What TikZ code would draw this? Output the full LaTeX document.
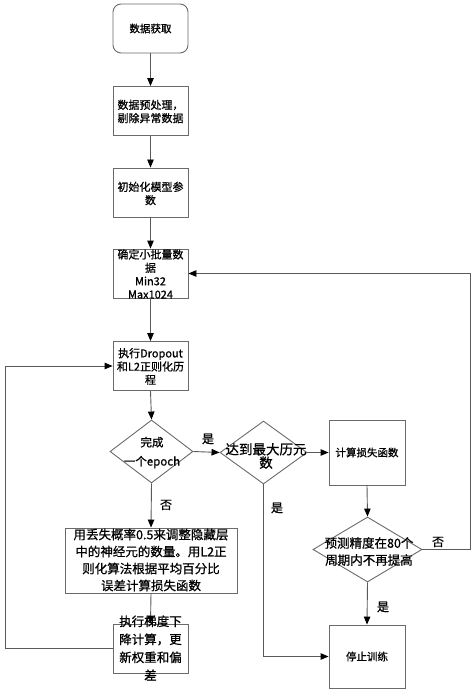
\documentclass[tikz,border=0pt]{standalone}
\usepackage{fontspec}
\setmainfont{Noto Sans CJK SC}[FakeBold=0.8]
\usetikzlibrary{shapes.geometric,arrows.meta}
\definecolor{linec}{HTML}{5A5A5A}
\definecolor{boxc}{HTML}{6A6A6A}
\begin{document}
\begin{tikzpicture}[x=1pt,y=-1pt,
  box/.style={draw=boxc, line width=0.9pt, minimum width=75pt, minimum height=49pt, inner sep=0pt},
  dia/.style={draw=boxc, line width=0.9pt, diamond, inner sep=0pt},
  txt/.style={align=center, inner sep=0pt, font=\fontsize{11}{13.3}\selectfont},
  txts/.style={align=center, inner sep=0pt, font=\fontsize{10.5}{13}\selectfont},
  txtl/.style={align=center, inner sep=0pt, font=\fontsize{12.5}{17}\selectfont},
  lab/.style={inner sep=0pt, font=\fontsize{12}{14}\selectfont},
  arr/.style={draw=linec, line width=0.9pt, -{Triangle[length=8pt,width=6.5pt,color=black]}},
  ln/.style={draw=linec, line width=0.9pt}]
\useasboundingbox (0,0) rectangle (474,695);
% shapes
\node[box, rounded corners=8pt] (b1) at (150.5,28.5) {};
\node[box] (b2) at (150.5,111) {};
\node[box] (b3) at (150.5,192.5) {};
\node[box] (b4) at (150.5,273.5) {};
\node[box] (b5) at (150.5,366) {};
\node[dia, minimum width=83pt, minimum height=63pt] (d1) at (151.5,451.5) {};
\node[dia, minimum width=87pt, minimum height=63pt] (d2) at (263.5,452.5) {};
\node[box, minimum width=76pt, minimum height=65pt] (b6) at (367,452.5) {};
\node[dia, minimum width=109pt, minimum height=65pt] (d3) at (367.5,549.5) {};
\node[box, minimum width=76pt, minimum height=63pt] (b7) at (367,656.5) {};
\node[box, minimum width=172pt, minimum height=65pt] (b8) at (151,560.5) {};
\node[box] (b9) at (150.5,648.5) {};
% texts
\node[txts] (t1) at (b1) {数据获取};
\node[txt] (t2) at (150.5,111.5) {数据预处理，\\剔除异常数据};
\node[txt] (t3) at (150.5,193.5) {初始化模型参\\数};
\node[txt] (t4) at (150.5,274) {确定小批量数\\据\\Min32\\Max1024};
\node[txt] (t5) at (150.5,366.5) {执行Dropout\\和L2正则化历\\程};
\node[txt, font=\fontsize{11.5}{19}\selectfont] (td1) at (152,452.5) {完成\\一个epoch};
\node[txt, font=\fontsize{13.5}{12}\selectfont] (td2) at (266,456) {达到最大历元\\数};
\node[txts] (t6) at (b6) {计算损失函数};
\node[txtl] (td3) at (369,551.5) {预测精度在80个\\周期内不再提高};
\node[txts] (t7) at (b7) {停止训练};
\node[txtl] (t8) at (151,560) {用丢失概率0.5来调整隐藏层\\中的神经元的数量。用L2正\\则化算法根据平均百分比\\误差计算损失函数};
\node[txtl, font=\fontsize{12.5}{18}\selectfont] (t9) at (150.5,648) {执行梯度下\\降计算，更\\新权重和偏\\差};
% connectors
\coordinate (r1) at (470,549.5);
\coordinate (l1) at (5,648.5);
\draw[arr] (b1) -- (b2);
\draw[arr] (b2) -- (b3);
\draw[arr] (b3) -- (b4);
\draw[arr] (b4) -- (b5);
\draw[arr] (b5.south) -- (d1.north);
\draw[arr] (d1.east) -- (d2.west);
\draw[arr] (d2.east) -- (b6.west);
\draw[arr] (b6.south) -- (d3.north);
\draw[arr] (d3.south) -- (b7.north);
\draw[arr] (d2.south) |- (b7.west);
\draw[ln] (d3.east) -- (r1);
\draw[arr] (r1) |- (b4.east);
\draw[arr] (d1.south) -- (b8.north);
\draw[arr] (b8.south) -- (b9.north);
\draw[ln] (b9.west) -- (l1);
\draw[arr] (l1) |- (b5.west);
% labels
\node[lab] (y1) at (208,439) {是};
\node[lab] (y2) at (277,508) {是};
\node[lab] (y3) at (383,607) {是};
\node[lab] (n1) at (166,505) {否};
\node[lab] (n2) at (438,542) {否};
\end{tikzpicture}
\end{document}
